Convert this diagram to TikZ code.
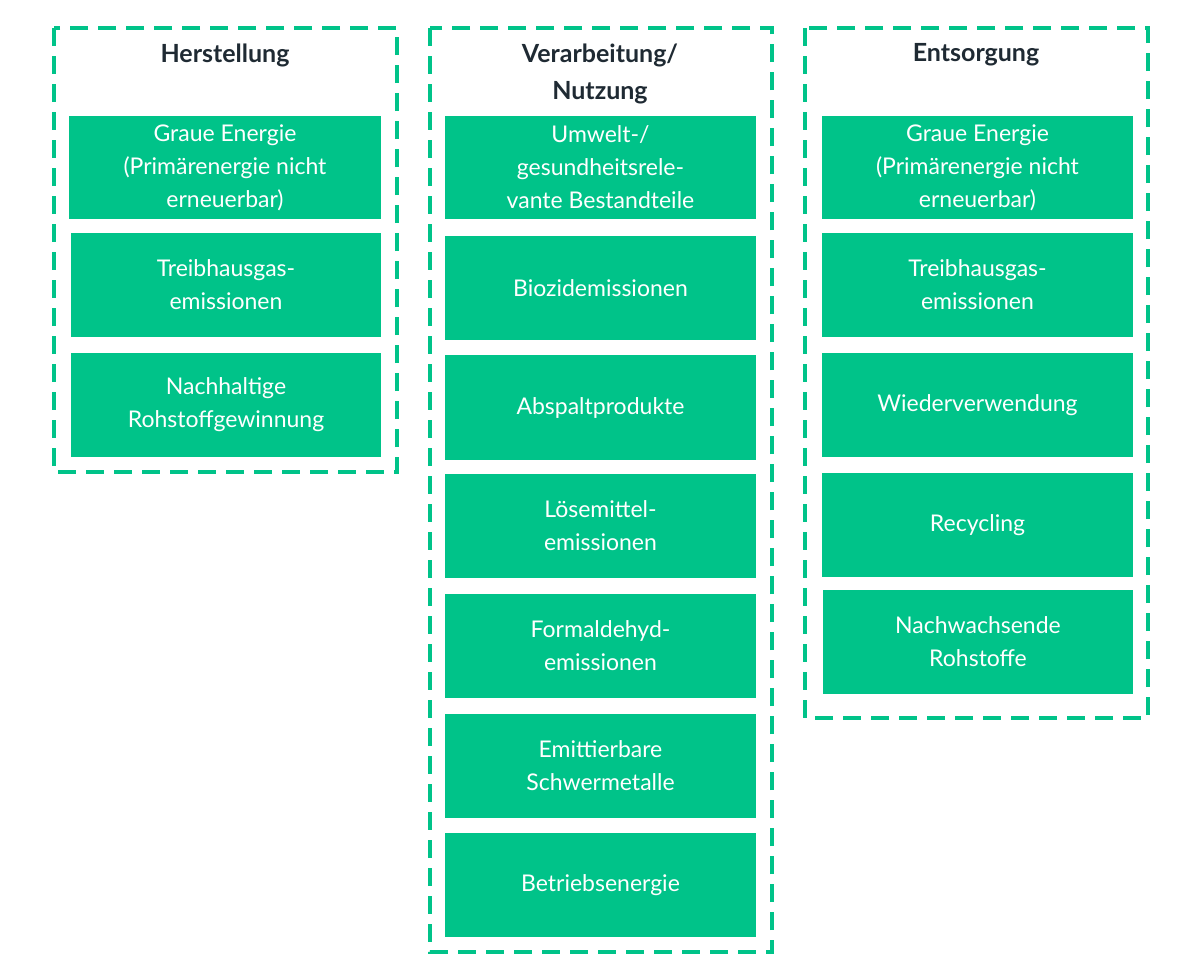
\documentclass[tikz,border=0pt]{standalone}
\usepackage{fontspec}
\setmainfont{Lato}
\definecolor{gr}{HTML}{00C389}
\definecolor{dk}{HTML}{1F2A33}
\begin{document}
\begin{tikzpicture}[x=1pt,y=-1pt,
 frame/.style={draw=gr,line width=4pt,dash pattern=on 18pt off 10pt},
 item/.style={fill=gr,text=white,font=\fontsize{23}{33}\selectfont,align=center},
 ttl/.style={text=dk,font=\bfseries\fontsize{25}{37}\selectfont,align=center}]
\useasboundingbox (0,0) rectangle (1200,980);
\newcommand\bx[6]{\path[fill=gr] (#2,#4) rectangle (#3,#5); \node[item] (#1) at ({(#2+#3)/2},{(#4+#5)/2}) {#6};}
% column 1
\draw[frame] (54,28) rectangle (397,472);
\node[ttl] (t1) at (225,55) {Herstellung};
\bx{a1}{69}{381}{116}{219}{Graue Energie\\(Primärenergie nicht\\erneuerbar)}
\bx{a2}{71}{381}{233}{337}{Treibhausgas-\\emissionen}
\bx{a3}{71}{381}{353}{457}{Nachhaltige\\Rohstoffgewinnung}
% column 2
\draw[frame] (430,28) rectangle (772,952);
\node[ttl] (t2) at (600,74) {Verarbeitung/\\Nutzung};
\bx{b1}{445}{756}{116}{219}{Umwelt-/\\gesundheitsrele-\\vante Bestandteile}
\bx{b2}{445}{756}{236}{340}{Biozidemissionen}
\bx{b3}{445}{756}{355}{460}{Abspaltprodukte}
\bx{b4}{445}{756}{474}{578}{Lösemittel-\\emissionen}
\bx{b5}{445}{756}{594}{698}{Formaldehyd-\\emissionen}
\bx{b6}{445}{756}{714}{818}{Emittierbare\\Schwermetalle}
\bx{b7}{445}{756}{833}{937}{Betriebsenergie}
% column 3
\draw[frame] (805,28) rectangle (1148,718);
\node[ttl] (t3) at (976,55) {Entsorgung};
\bx{c1}{822}{1133}{116}{219}{Graue Energie\\(Primärenergie nicht\\erneuerbar)}
\bx{c2}{822}{1133}{233}{337}{Treibhausgas-\\emissionen}
\bx{c3}{822}{1133}{353}{457}{Wiederverwendung}
\bx{c4}{822}{1133}{473}{577}{Recycling}
\bx{c5}{823}{1133}{590}{694}{Nachwachsende\\Rohstoffe}
\end{tikzpicture}
\end{document}
